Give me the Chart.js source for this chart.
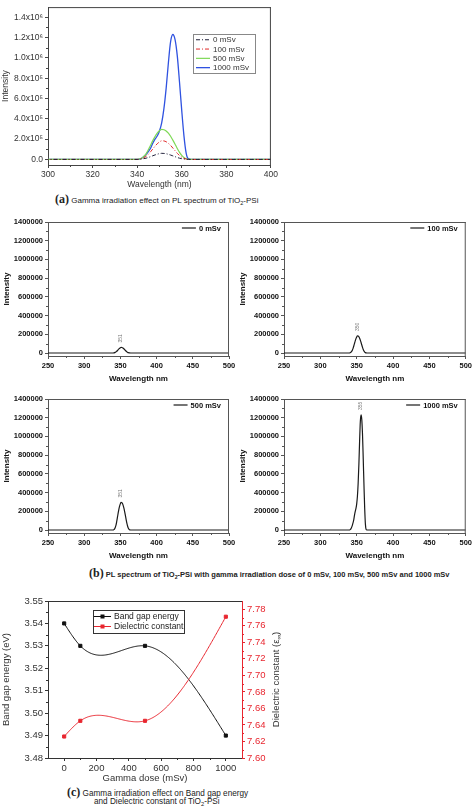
<!DOCTYPE html>
<html>
<head>
<meta charset="utf-8">
<script src="https://cdn.jsdelivr.net/npm/chart.js@4"></script>
<style>
body{margin:0;background:#fff;width:474px;height:809px;position:relative;overflow:hidden;font-family:'Liberation Sans',Arial,sans-serif}
canvas{position:absolute}
.cap{position:absolute;white-space:nowrap;color:#222;line-height:1}
.cap .l{font-family:'Liberation Serif',serif;font-weight:bold;font-size:12px}
sub{font-size:70%;vertical-align:-2px;line-height:0}
</style>
</head>
<body>
<canvas id="cA" width="280" height="192" style="left:0;top:0"></canvas>
<div class="cap" style="left:55px;top:193px;font-size:8px"><span class="l">(a)</span> Gamma irradiation effect on PL spectrum of TiO<sub>2</sub>-PSi</div>

<canvas id="cB1" width="240" height="176" style="left:0;top:212px"></canvas>
<canvas id="cB2" width="238" height="176" style="left:236px;top:212px"></canvas>
<canvas id="cB3" width="240" height="176" style="left:0;top:389px"></canvas>
<canvas id="cB4" width="238" height="176" style="left:236px;top:389px"></canvas>
<div class="cap" style="left:89px;top:567px;font-size:7.5px;font-weight:bold"><span class="l">(b)</span> PL spectrum of TiO<sub>2</sub>-PSi with gamma irradiation dose of 0 mSv, 100 mSv, 500 mSv and 1000 mSv</div>

<canvas id="cC" width="300" height="192" style="left:0;top:592px"></canvas>
<div class="cap" style="left:67px;top:786px;font-size:8.2px"><span class="l">(c)</span> Gamma irradiation effect on Band gap energy</div>
<div class="cap" style="left:94px;top:798px;font-size:8.2px">and Dielectric constant of TiO<sub>2</sub>-PSi</div>

<script>
// ---- data ----
const wavelength = [250, 300, 340, 341, 342, 343, 344, 345, 346, 347, 348, 349, 350, 351, 352,
                    353, 354, 355, 356, 357, 358, 359, 360, 361, 362, 363, 364, 400, 500];
const pl0    = [0, 0, 0, 1500, 4000, 8000, 12000, 19000, 27000, 36000, 44000, 51000, 57000, 60000, 59000,
                56000, 50000, 43000, 35000, 27000, 19000, 12000, 7000, 3500, 1500, 500, 0, 0, 0];
const pl100  = [0, 0, 0, 3000, 8000, 17000, 30000, 50000, 75000, 102000, 130000, 154000, 172000, 183000, 182000,
                174000, 158000, 138000, 112000, 86000, 60000, 38000, 22000, 10000, 4000, 1000, 0, 0, 0];
const pl500  = [0, 0, 0, 4000, 12000, 30000, 55000, 95000, 140000, 185000, 225000, 258000, 282000, 295000, 292000,
                280000, 258000, 228000, 190000, 150000, 108000, 70000, 40000, 18000, 6000, 1500, 0, 0, 0];
const pl1000 = [0, 0, 0, 4000, 12000, 28000, 50000, 78000, 110000, 160000, 200000, 230000, 280000, 360000, 500000,
                700000, 950000, 1160000, 1230000, 1180000, 1020000, 760000, 480000, 230000, 60000, 5000, 0, 0, 0];
const doseLabels = ['0 mSv', '100 mSv', '500 mSv', '1000 mSv'];
const peakLabels = ['351', '350', '351', '355'];

const yTicksA  = [0, 200000, 400000, 600000, 800000, 1000000, 1200000, 1400000];
const yLabelsA = ['0.0', '2.0x10\u2075', '4.0x10\u2075', '6.0x10\u2075', '8.0x10\u2075', '1.0x10\u2076', '1.2x10\u2076', '1.4x10\u2076'];
const xTicksA  = [300, 320, 340, 360, 380, 400];
const yTicksB  = [0, 200000, 400000, 600000, 800000, 1000000, 1200000, 1400000];
const yLabelsB = ['0', '200000', '400000', '600000', '800000', '1000000', '1200000', '1400000'];
const xTicksB  = [250, 300, 350, 400, 450, 500];

const doses      = [0, 100, 500, 1000];
const bandGap    = [3.54, 3.53, 3.53, 3.49];
const dielectric = [7.626, 7.645, 7.645, 7.771];
const xTicksC  = [0, 200, 400, 600, 800, 1000];
const xLabelsC = ['0', '200', '400', '600', '800', '1000'];
const yTicksC  = [3.48, 3.49, 3.50, 3.51, 3.52, 3.53, 3.54, 3.55];
const yLabelsC = ['3.48', '3.49', '3.50', '3.51', '3.52', '3.53', '3.54', '3.55'];
const y2TicksC  = [7.60, 7.62, 7.64, 7.66, 7.68, 7.70, 7.72, 7.74, 7.76, 7.78];
const y2LabelsC = ['7.60', '7.62', '7.64', '7.66', '7.68', '7.70', '7.72', '7.74', '7.76', '7.78'];

const red = '#e8262f';
Chart.defaults.font.family = "'Liberation Sans', Arial, sans-serif";
Chart.defaults.color = '#333';

const pts = (xs, ys) => xs.map((x, i) => ({x: x, y: ys[i]}));
const setTicks = vals => s => { s.ticks = vals.map(v => ({value: v})); };

// box round the plot + minor ticks
const frame = {
  id: 'frame',
  afterDraw(chart, args, o) {
    const {ctx, chartArea: a} = chart;
    ctx.save();
    ctx.lineWidth = 1;
    ctx.strokeStyle = o.color || '#333';
    ctx.beginPath();
    ctx.moveTo(a.left, a.top + 0.5); ctx.lineTo(a.right, a.top + 0.5);
    if (!o.topOnly) { ctx.moveTo(a.right - 0.5, a.top); ctx.lineTo(a.right - 0.5, a.bottom); }
    ctx.stroke();
    Object.values(chart.scales).forEach(s => {
      const t = s.ticks;
      ctx.strokeStyle = s.options.border.color;
      ctx.beginPath();
      for (let i = 0; i < t.length - 1; i++) {
        const p = Math.round(s.getPixelForValue((t[i].value + t[i + 1].value) / 2)) + 0.5;
        if (s.isHorizontal()) { ctx.moveTo(p, a.bottom); ctx.lineTo(p, a.bottom + 2); }
        else if (s.position === 'left') { ctx.moveTo(a.left - 2, p); ctx.lineTo(a.left, p); }
        else { ctx.moveTo(a.right, p); ctx.lineTo(a.right + 2, p); }
      }
      ctx.stroke();
    });
    ctx.restore();
  }
};

// legend drawn inside the plot area
const inLegend = {
  id: 'inLegend',
  afterDraw(chart, args, o) {
    if (!o.show) return;
    const {ctx, chartArea: a} = chart;
    const dss = chart.data.datasets;
    ctx.save();
    ctx.font = o.font;
    let x0 = a.left + (o.x || 0);
    if (o.xr !== undefined) {
      const tw = Math.max(...dss.map(d => ctx.measureText(d.label).width));
      x0 = a.right - o.xr - tw - o.len - 4;
    }
    const y0 = a.top + o.y;
    if (o.box) {
      ctx.strokeStyle = o.boxColor || '#333'; ctx.lineWidth = 1;
      ctx.strokeRect(Math.round(x0) + 0.5, Math.round(y0) + 0.5, o.w, o.h);
    }
    ctx.textBaseline = 'middle';
    dss.forEach((d, i) => {
      const y = y0 + o.pad + o.row * (i + 0.5);
      const lx = x0 + (o.box ? (o.inset || 3) : 0);
      ctx.strokeStyle = d.borderColor; ctx.lineWidth = d.borderWidth;
      ctx.setLineDash(d.borderDash || []);
      ctx.beginPath(); ctx.moveTo(lx, y); ctx.lineTo(lx + o.len, y); ctx.stroke();
      ctx.setLineDash([]);
      if (o.marker) { ctx.fillStyle = d.borderColor; ctx.fillRect(lx + o.len / 2 - 2, y - 2, 4, 4); }
      ctx.fillStyle = o.color || '#222';
      ctx.fillText(d.label, lx + o.len + 3, y + 0.5);
    });
    ctx.restore();
  }
};

// small rotated label above the peak
const peakMark = {
  id: 'peakMark',
  afterDraw(chart, args, o) {
    if (!o.text) return;
    const pts2 = chart.getDatasetMeta(0).data;
    let best = pts2[0];
    pts2.forEach(p => { if (p.y < best.y) best = p; });
    const ctx = chart.ctx;
    ctx.save();
    ctx.translate(best.x, best.y - 9);
    ctx.rotate(-Math.PI / 2);
    ctx.font = '5px ' + Chart.defaults.font.family;
    ctx.fillStyle = '#777';
    ctx.textAlign = 'center'; ctx.textBaseline = 'middle';
    ctx.fillText(o.text, 0, 0);
    ctx.restore();
  }
};

// smooth curve through the points (natural cubic spline, like the original plot)
function naturalSpline(xs, ys) {
  const n = xs.length, h = [], M = new Array(n).fill(0);
  for (let i = 0; i < n - 1; i++) h.push(xs[i + 1] - xs[i]);
  const a = [], b = [], c = [], d = [];
  for (let i = 1; i < n - 1; i++) {
    a.push(h[i - 1]); b.push(2 * (h[i - 1] + h[i])); c.push(h[i]);
    d.push(6 * ((ys[i + 1] - ys[i]) / h[i] - (ys[i] - ys[i - 1]) / h[i - 1]));
  }
  const m = b.length;
  for (let i = 1; i < m; i++) {
    const w = a[i] / b[i - 1];
    b[i] -= w * c[i - 1]; d[i] -= w * d[i - 1];
  }
  const sol = new Array(m);
  sol[m - 1] = d[m - 1] / b[m - 1];
  for (let i = m - 2; i >= 0; i--) sol[i] = (d[i] - c[i] * sol[i + 1]) / b[i];
  for (let i = 0; i < m; i++) M[i + 1] = sol[i];
  return x => {
    let k = 0;
    while (k < n - 2 && x > xs[k + 1]) k++;
    const hk = h[k], A = xs[k + 1] - x, B = x - xs[k];
    return M[k] * A * A * A / (6 * hk) + M[k + 1] * B * B * B / (6 * hk)
      + (ys[k] / hk - M[k] * hk / 6) * A + (ys[k + 1] / hk - M[k + 1] * hk / 6) * B;
  };
}

const splineLines = {
  id: 'splineLines',
  beforeDatasetsDraw(chart) {
    const ctx = chart.ctx;
    chart.data.datasets.forEach(ds => {
      if (!ds.spline) return;
      const xs = ds.data.map(p => p.x), ys = ds.data.map(p => p.y);
      const f = naturalSpline(xs, ys);
      const sx = chart.scales.x, sy = chart.scales[ds.yAxisID];
      const x0 = xs[0], x1 = xs[xs.length - 1];
      ctx.save();
      ctx.strokeStyle = ds.borderColor; ctx.lineWidth = ds.borderWidth;
      ctx.beginPath();
      for (let i = 0; i <= 200; i++) {
        const x = x0 + (x1 - x0) * i / 200;
        const px = sx.getPixelForValue(x), py = sy.getPixelForValue(f(x));
        if (i === 0) ctx.moveTo(px, py); else ctx.lineTo(px, py);
      }
      ctx.stroke();
      ctx.restore();
    });
  }
};

// right axis title reading bottom to top, with subscript
const rightTitle = {
  id: 'rightTitle',
  afterDraw(chart) {
    const {ctx, chartArea: a} = chart;
    ctx.save();
    ctx.translate(a.right + 34, (a.top + a.bottom) / 2);
    ctx.rotate(-Math.PI / 2);
    ctx.fillStyle = '#333';
    ctx.textBaseline = 'middle';
    const f = Chart.defaults.font.family;
    ctx.font = '9.5px ' + f;
    const t1 = 'Dielectric constant (\u03b5', t3 = ')';
    ctx.font = '6.5px ' + f; const w2 = ctx.measureText('\u221e').width;
    ctx.font = '9.5px ' + f;
    const w1 = ctx.measureText(t1).width, w3 = ctx.measureText(t3).width;
    let x = -(w1 + w2 + w3) / 2;
    ctx.fillText(t1, x, 0); x += w1;
    ctx.font = '6.5px ' + f; ctx.fillText('\u221e', x, 3); x += w2;
    ctx.font = '9.5px ' + f; ctx.fillText(t3, x, 0);
    ctx.restore();
  }
};

const axisLook = (col) => ({
  grid: {drawOnChartArea: false, tickLength: 3, color: col, tickColor: col},
  border: {color: col, width: 1}
});

// ---- (a) all four spectra ----
new Chart(document.getElementById('cA'), {
  type: 'line',
  data: {datasets: [
    {label: doseLabels[0], data: pts(wavelength, pl0), borderColor: '#20203a', borderWidth: 1, borderDash: [4, 2, 1, 2]},
    {label: doseLabels[1], data: pts(wavelength, pl100), borderColor: '#e02a2a', borderWidth: 1, borderDash: [4, 2, 1, 2]},
    {label: doseLabels[2], data: pts(wavelength, pl500), borderColor: '#7ed957', borderWidth: 1.2},
    {label: doseLabels[3], data: pts(wavelength, pl1000), borderColor: '#2f52e0', borderWidth: 1.3}
  ]},
  options: {
    responsive: false, animation: false, events: [],
    layout: {padding: {top: 3, right: 9}},
    elements: {point: {radius: 0}, line: {cubicInterpolationMode: 'monotone'}},
    plugins: {
      legend: {display: false}, tooltip: {enabled: false},
      frame: {color: '#444'},
      inLegend: {show: true, x: 145, y: 27, w: 62, h: 39, pad: 1, row: 9.3, len: 14, box: true, boxColor: '#888', font: "8px 'Liberation Sans', Arial, sans-serif", color: '#333'}
    },
    scales: {
      x: Object.assign({type: 'linear', min: 300, max: 400,
        afterBuildTicks: setTicks(xTicksA),
        afterFit: s => { s.height = 27; },
        ticks: {font: {size: 8.5}, padding: 2, maxRotation: 0},
        title: {display: true, text: 'Wavelength (nm)', font: {size: 8.5}, padding: 2}
      }, axisLook('#444')),
      y: Object.assign({min: -55000, max: 1500000,
        afterBuildTicks: setTicks(yTicksA),
        afterFit: s => { s.width = 48; },
        ticks: {font: {size: 8.5}, padding: 2, callback: (v, i) => yLabelsA[i]},
        title: {display: true, text: 'Intensity', font: {size: 8.5}, padding: 1}
      }, axisLook('#444'))
    }
  },
  plugins: [frame, inLegend]
});

// ---- (b) one spectrum per panel ----
function panelB(id, series, label, peak) {
  const bold = {size: 7.5, weight: 'bold'};
  new Chart(document.getElementById(id), {
    type: 'line',
    data: {datasets: [{label: label, data: pts(wavelength, series), borderColor: '#1a1a1a', borderWidth: 1.2}]},
    options: {
      responsive: false, animation: false, events: [],
      layout: {padding: {top: 10, right: id === 'cB1' || id === 'cB3' ? 11 : 6}},
      elements: {point: {radius: 0}, line: {cubicInterpolationMode: 'monotone'}},
      plugins: {
        legend: {display: false}, tooltip: {enabled: false},
        frame: {color: '#555'},
        inLegend: {show: true, xr: 7, y: 0, pad: 1, row: 10, len: 14, font: "bold 7.5px 'Liberation Sans', Arial, sans-serif", color: '#111'},
        peakMark: {text: peak}
      },
      scales: {
        x: Object.assign({type: 'linear', min: 250, max: 500,
          afterBuildTicks: setTicks(xTicksB),
          afterFit: s => { s.height = 32; },
          ticks: {font: bold, color: '#111', padding: 2, maxRotation: 0},
          title: {display: true, text: 'Wavelength nm', font: {size: 8, weight: 'bold'}, color: '#111', padding: 4}
        }, axisLook('#555')),
        y: Object.assign({min: -32000, max: 1400000,
          afterBuildTicks: setTicks(yTicksB),
          afterFit: s => { s.width = 48; },
          ticks: {font: bold, color: '#111', padding: 2, callback: (v, i) => yLabelsB[i]},
          title: {display: true, text: 'Intensity', font: {size: 8, weight: 'bold'}, color: '#111', padding: 2}
        }, axisLook('#555'))
      }
    },
    plugins: [frame, inLegend, peakMark]
  });
}
panelB('cB1', pl0, doseLabels[0], peakLabels[0]);
panelB('cB2', pl100, doseLabels[1], peakLabels[1]);
panelB('cB3', pl500, doseLabels[2], peakLabels[2]);
panelB('cB4', pl1000, doseLabels[3], peakLabels[3]);

// ---- (c) band gap and dielectric constant vs dose ----
new Chart(document.getElementById('cC'), {
  type: 'line',
  data: {datasets: [
    {label: 'Band gap energy', data: pts(doses, bandGap), yAxisID: 'y', borderColor: '#111', backgroundColor: '#111',
     borderWidth: 1, pointStyle: 'rect', pointRadius: 2.2, showLine: false, spline: true},
    {label: 'Dielectric constant', data: pts(doses, dielectric), yAxisID: 'y2', borderColor: red, backgroundColor: red,
     borderWidth: 1, pointStyle: 'rect', pointRadius: 2.2, showLine: false, spline: true}
  ]},
  options: {
    responsive: false, animation: false, events: [],
    layout: {padding: {top: 9}},
    plugins: {
      legend: {display: false}, tooltip: {enabled: false},
      frame: {color: '#333', topOnly: true},
      inLegend: {show: true, x: 45, y: 9, w: 91, h: 23, pad: 1.5, row: 10, len: 17, inset: 1, box: true, marker: true, boxColor: '#333', font: "8.5px 'Liberation Sans', Arial, sans-serif", color: '#222'}
    },
    scales: {
      x: Object.assign({type: 'linear', min: -100, max: 1100,
        afterBuildTicks: setTicks(xTicksC),
        afterFit: s => { s.height = 26; },
        ticks: {font: {size: 9.5}, padding: 2, maxRotation: 0, callback: (v, i) => xLabelsC[i]},
        title: {display: true, text: 'Gamma dose (mSv)', font: {size: 9.5}, padding: 0}
      }, axisLook('#333')),
      y: Object.assign({position: 'left', min: 3.48, max: 3.55,
        afterBuildTicks: setTicks(yTicksC),
        afterFit: s => { s.width = 48; },
        ticks: {font: {size: 9.5}, padding: 2, callback: (v, i) => yLabelsC[i]},
        title: {display: true, text: 'Band gap energy (eV)', font: {size: 9.5}, padding: 1}
      }, axisLook('#333')),
      y2: Object.assign({position: 'right', min: 7.60, max: 7.79,
        afterBuildTicks: setTicks(y2TicksC),
        afterFit: s => { s.width = 58; },
        ticks: {font: {size: 9.5}, color: red, padding: 2, callback: (v, i) => y2LabelsC[i]}
      }, axisLook(red))
    }
  },
  plugins: [frame, inLegend, splineLines, rightTitle]
});
</script>
</body>
</html>
